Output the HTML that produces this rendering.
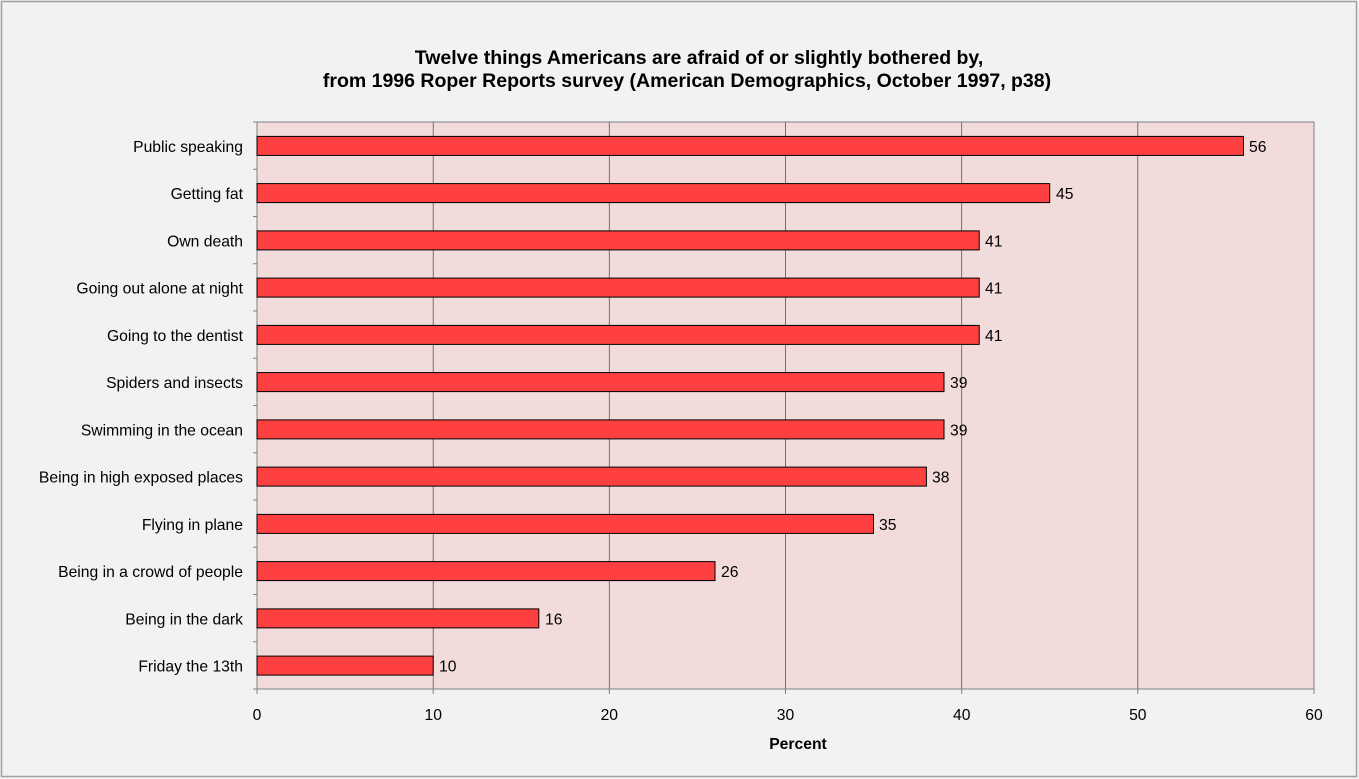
<!DOCTYPE html>
<html><head><style>
html,body{margin:0;padding:0;background:#f2f2f2;}
svg{display:block;font-family:"Liberation Sans",Arial,sans-serif;}
</style></head><body>
<svg width="1359" height="779" xmlns="http://www.w3.org/2000/svg">
<rect x="0" y="0" width="1359" height="779" fill="#f2f2f2"/>
<rect x="1.5" y="1.5" width="1355" height="775" fill="none" stroke="#a0a0a0" stroke-width="1.5"/>
<text x="699" y="64" text-anchor="middle" font-size="19.5" font-weight="bold" fill="#000">Twelve things Americans are afraid of or slightly bothered by,</text>
<text x="687" y="87" text-anchor="middle" font-size="19.5" font-weight="bold" fill="#000">from 1996 Roper Reports survey (American Demographics, October 1997, p38)</text>
<rect x="257" y="122" width="1057" height="567" fill="#f2dcdb" stroke="#808080" stroke-width="1"/>
<g stroke="#555" stroke-width="0.8">
<line x1="433.2" y1="122" x2="433.2" y2="689"/>
<line x1="609.3" y1="122" x2="609.3" y2="689"/>
<line x1="785.5" y1="122" x2="785.5" y2="689"/>
<line x1="961.7" y1="122" x2="961.7" y2="689"/>
<line x1="1137.8" y1="122" x2="1137.8" y2="689"/>
</g>
<g stroke="#808080" stroke-width="1">
<line x1="257" y1="122" x2="257" y2="689"/>
<line x1="257" y1="689" x2="1314" y2="689"/>
<line x1="257" y1="689" x2="257" y2="694"/><line x1="433.2" y1="689" x2="433.2" y2="694"/><line x1="609.3" y1="689" x2="609.3" y2="694"/><line x1="785.5" y1="689" x2="785.5" y2="694"/><line x1="961.7" y1="689" x2="961.7" y2="694"/><line x1="1137.8" y1="689" x2="1137.8" y2="694"/><line x1="1314" y1="689" x2="1314" y2="694"/>
<line x1="253" y1="122" x2="257" y2="122"/><line x1="253" y1="169.25" x2="257" y2="169.25"/><line x1="253" y1="216.5" x2="257" y2="216.5"/><line x1="253" y1="263.75" x2="257" y2="263.75"/><line x1="253" y1="311" x2="257" y2="311"/><line x1="253" y1="358.25" x2="257" y2="358.25"/><line x1="253" y1="405.5" x2="257" y2="405.5"/><line x1="253" y1="452.75" x2="257" y2="452.75"/><line x1="253" y1="500" x2="257" y2="500"/><line x1="253" y1="547.25" x2="257" y2="547.25"/><line x1="253" y1="594.5" x2="257" y2="594.5"/><line x1="253" y1="641.75" x2="257" y2="641.75"/><line x1="253" y1="689" x2="257" y2="689"/>
</g>
<g fill="#ff4040" stroke="#000" stroke-width="1">
<rect x="257" y="136.4" width="986.5" height="19"/>
<rect x="257" y="183.6" width="792.7" height="19"/>
<rect x="257" y="230.9" width="722.2" height="19"/>
<rect x="257" y="278.1" width="722.2" height="19"/>
<rect x="257" y="325.4" width="722.2" height="19"/>
<rect x="257" y="372.6" width="687.0" height="19"/>
<rect x="257" y="419.9" width="687.0" height="19"/>
<rect x="257" y="467.1" width="669.4" height="19"/>
<rect x="257" y="514.4" width="616.5" height="19"/>
<rect x="257" y="561.6" width="458.0" height="19"/>
<rect x="257" y="608.9" width="281.8" height="19"/>
<rect x="257" y="656.1" width="176.2" height="19"/>
</g>
<g font-size="15.7" fill="#000" text-anchor="end">
<text x="243" y="152">Public speaking</text>
<text x="243" y="199.2">Getting fat</text>
<text x="243" y="246.5">Own death</text>
<text x="243" y="293.7">Going out alone at night</text>
<text x="243" y="341">Going to the dentist</text>
<text x="243" y="388.2">Spiders and insects</text>
<text x="243" y="435.5">Swimming in the ocean</text>
<text x="243" y="482.7">Being in high exposed places</text>
<text x="243" y="530">Flying in plane</text>
<text x="243" y="577.2">Being in a crowd of people</text>
<text x="243" y="624.5">Being in the dark</text>
<text x="243" y="671.7">Friday the 13th</text>
</g>
<g font-size="15.7" fill="#000">
<text x="1249" y="152">56</text>
<text x="1056" y="199.2">45</text>
<text x="985" y="246.5">41</text>
<text x="985" y="293.7">41</text>
<text x="985" y="341">41</text>
<text x="950" y="388.2">39</text>
<text x="950" y="435.5">39</text>
<text x="932" y="482.7">38</text>
<text x="879" y="530">35</text>
<text x="721" y="577.2">26</text>
<text x="545" y="624.5">16</text>
<text x="439" y="671.7">10</text>
</g>
<g font-size="15.7" fill="#000" text-anchor="middle">
<text x="257" y="720">0</text><text x="433.2" y="720">10</text><text x="609.3" y="720">20</text><text x="785.5" y="720">30</text><text x="961.7" y="720">40</text><text x="1137.8" y="720">50</text><text x="1314" y="720">60</text>
<text x="798" y="749" font-weight="bold">Percent</text>
</g>
</svg>
</body></html>
